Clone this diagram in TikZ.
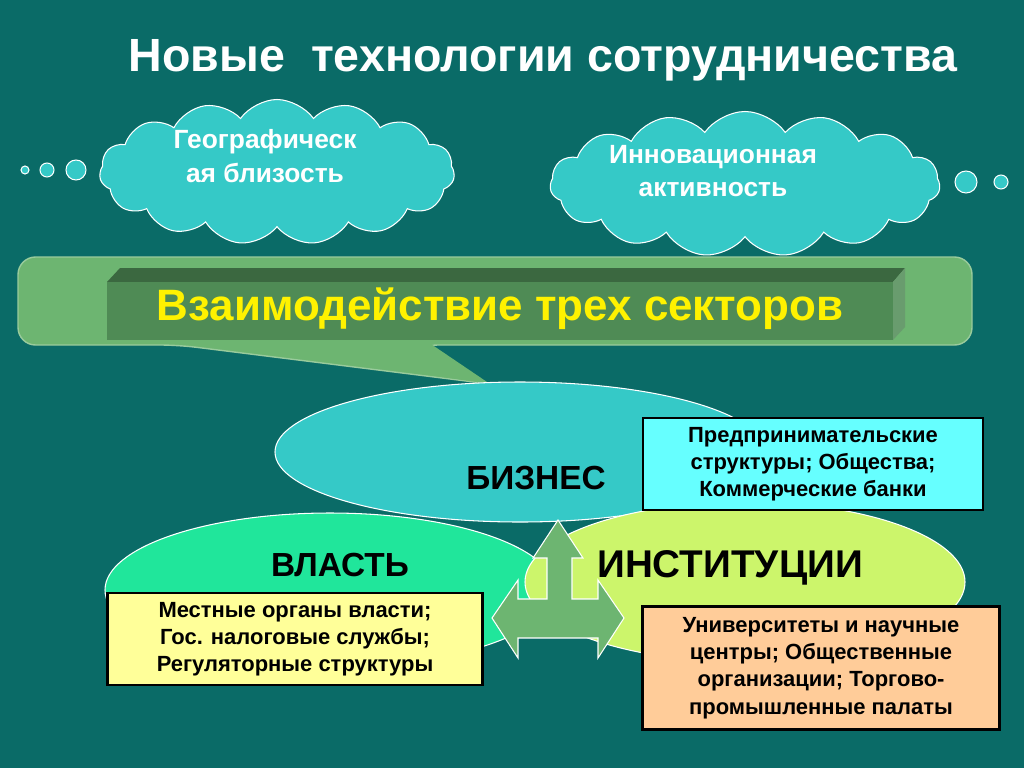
\documentclass[tikz,border=0pt]{standalone}
\usepackage{fontspec}
\setmainfont{Liberation Sans}
\usetikzlibrary{shapes.symbols}
\definecolor{bgteal}{HTML}{0A6B67}
\definecolor{cloudcyan}{HTML}{35C9C7}
\definecolor{panelgreen}{HTML}{6DB571}
\definecolor{darkpanel}{HTML}{4F8B55}
\definecolor{mintgreen}{HTML}{20E69B}
\definecolor{limegreen}{HTML}{CCF56B}
\definecolor{boxcyan}{HTML}{66FFFF}
\definecolor{boxyellow}{HTML}{FFFF99}
\definecolor{boxorange}{HTML}{FFCC99}
\tikzset{
  thought/.style={cloud, cloud puffs=15, cloud puff arc=110, aspect=2.3, draw=white, fill=cloudcyan, line width=0.6pt},
  bubble/.style={draw=white, fill=cloudcyan, line width=0.6pt},
  sector/.style={draw=white, line width=0.6pt},
  infobox/.style={draw=black, line width=1.4pt, align=center, font=\bfseries\fontsize{12.5}{15.5}\selectfont, inner sep=0pt},
  sectorlabel/.style={font=\bfseries\fontsize{19}{22}\selectfont}
}
\begin{document}
\begin{tikzpicture}[x=0.02cm, y=-0.02cm]
  \fill[bgteal] (0,0) rectangle (1024,768);
  \useasboundingbox (0,0) rectangle (1024,768);
  \node[text=white, font=\bfseries\fontsize{26.5}{30}\selectfont] (title) at (543,60) {Новые\ \ технологии сотрудничества};
  % clouds
  \node[thought, minimum width=355*0.02cm, minimum height=145*0.02cm] (geo) at (277,172) {};
  \node[thought, minimum width=390*0.02cm, minimum height=145*0.02cm] (innov) at (745,184) {};
  \node[text=white, align=center, font=\bfseries\fontsize{15}{19}\selectfont] (geotext) at (265,156) {Географическ\\ая близость};
  \node[text=white, align=center, font=\bfseries\fontsize{15}{19}\selectfont] (innovtext) at (713,171) {Инновационная\\активность};
  \draw[bubble] (25,170) circle (4);
  \draw[bubble] (47,170) circle (7);
  \draw[bubble] (76,170) circle (10);
  \draw[bubble] (966,182) circle (11);
  \draw[bubble] (1001,182) circle (7);
  % panel with callout
  \coordinate (tip) at (490,384);
  \draw[panelgreen!70!white, line width=0.8pt, fill=panelgreen, rounded corners=10]
    (18,257) -- (972,257) -- (972,345) -- (420,345) -- (tip) -- (178,345) -- (18,345) -- cycle;
  \fill[panelgreen] (176,338) -- (422,338) -- (tip) -- cycle;
  \fill[darkpanel!75!black] (107,282) -- (120,268) -- (905,268) -- (893,282) -- cycle;
  \fill[darkpanel!85!white] (893,282) -- (905,268) -- (905,327) -- (893,340) -- cycle;
  \fill[darkpanel] (107,282) rectangle (893,340);
  \node[text=yellow, font=\bfseries\fontsize{25}{28}\selectfont] (sectors) at (500,309) {Взаимодействие трех секторов};
  % sectors
  \draw[sector, fill=cloudcyan] (520,452) ellipse (245 and 70);
  \draw[sector, fill=mintgreen] (330,590) ellipse (225 and 77);
  \draw[sector, fill=limegreen] (745,582) ellipse (220 and 80);
  \node[sectorlabel] (business) at (536,478) {БИЗНЕС};
  \node[sectorlabel] (power) at (340,565) {ВЛАСТЬ};
  \node[sectorlabel, font=\bfseries\fontsize{22}{24}\selectfont] (inst) at (730,568) {ИНСТИТУЦИИ};
  % three-way arrow
  \draw[draw=white, fill=panelgreen, line width=0.6pt]
    (558,520) -- (583,558) -- (572,558) -- (572,599) -- (598,599) -- (598,580) -- (624,618)
    -- (598,658) -- (598,638) -- (518,638) -- (518,658) -- (492,618) -- (518,580) -- (518,599)
    -- (547,599) -- (547,558) -- (533,558) -- cycle;
  % info boxes
  \node[infobox, fill=boxcyan, minimum width=340*0.02cm, minimum height=92*0.02cm] (bizbox) at (813,464)
    {Предпринимательские\\структуры; Общества;\\Коммерческие банки};
  \node[infobox, fill=boxyellow, minimum width=375*0.02cm, minimum height=92*0.02cm] (powerbox) at (295,639)
    {Местные органы власти;\\Гос. налоговые службы;\\Регуляторные структуры};
  \node[infobox, fill=boxorange, minimum width=357*0.02cm, minimum height=123*0.02cm] (instbox) at (821,668)
    {Университеты и научные\\центры; Общественные\\организации; Торгово-\\промышленные палаты};
\end{tikzpicture}
\end{document}
